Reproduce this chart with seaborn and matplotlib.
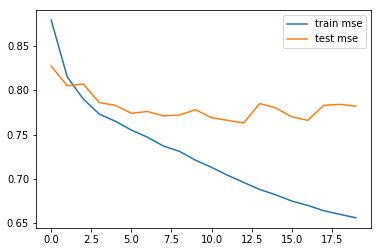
import matplotlib
matplotlib.use("Agg")
import matplotlib.pyplot as plt
import seaborn as sns
import pandas as pd

epochs = list(range(20))
train_mse = [0.879, 0.815, 0.790, 0.773, 0.765, 0.755, 0.747, 0.737, 0.731, 0.721,
             0.713, 0.704, 0.696, 0.688, 0.682, 0.675, 0.670, 0.664, 0.660, 0.656]
test_mse = [0.827, 0.805, 0.807, 0.786, 0.783, 0.774, 0.776, 0.771, 0.772, 0.778,
            0.769, 0.766, 0.763, 0.785, 0.780, 0.770, 0.766, 0.783, 0.784, 0.782]

df = pd.DataFrame({
    "epoch": epochs * 2,
    "mse": train_mse + test_mse,
    "series": ["train mse"] * 20 + ["test mse"] * 20,
})

fig, ax = plt.subplots(figsize=(381 / 72, 252 / 72), dpi=72)
sns.lineplot(data=df, x="epoch", y="mse", hue="series",
             palette=["#1f77b4", "#ff7f0e"], ax=ax)
ax.set_xlabel("")
ax.set_ylabel("")
ax.legend(title=None, loc="upper right")
ax.set_yticks([0.65, 0.70, 0.75, 0.80, 0.85])
fig.subplots_adjust(left=0.0945, right=0.974, bottom=0.0964, top=0.959)
fig.savefig("out.png", dpi=72)
